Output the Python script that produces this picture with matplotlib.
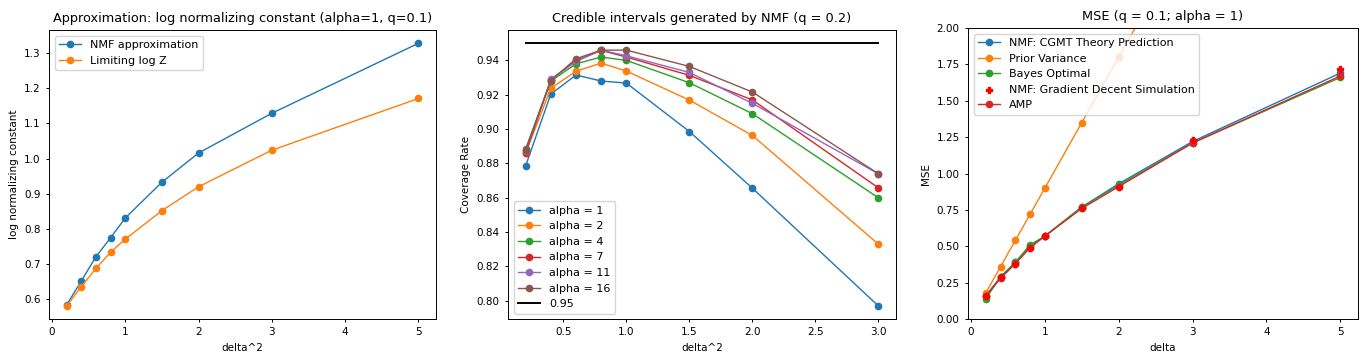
import matplotlib
matplotlib.use("Agg")
import matplotlib.pyplot as plt

# ---- panel 1: log normalizing constant ----
delta2 = [0.2, 0.4, 0.6, 0.8, 1.0, 1.5, 2.0, 3.0, 5.0]
nmf_logz = [0.584, 0.652, 0.721, 0.775, 0.831, 0.933, 1.016, 1.129, 1.328]
lim_logz = [0.581, 0.636, 0.688, 0.734, 0.771, 0.852, 0.920, 1.024, 1.171]

# ---- panel 2: coverage ----
delta2_cov = [0.2, 0.4, 0.6, 0.8, 1.0, 1.5, 2.0, 3.0]
alphas = [1, 2, 4, 7, 11, 16]
cov_a1 = [0.8786, 0.9204, 0.9315, 0.928, 0.9268, 0.8986, 0.8656, 0.797]
cov_a2 = [0.8860, 0.9237, 0.9338, 0.9384, 0.9338, 0.9169, 0.8963, 0.833]
cov_a4 = [0.8885, 0.9280, 0.9380, 0.9420, 0.9400, 0.9270, 0.9090, 0.860]
cov_a7 = [0.8858, 0.9287, 0.9400, 0.9458, 0.9420, 0.9313, 0.9170, 0.8658]
cov_a11 = [0.8870, 0.9290, 0.9394, 0.9460, 0.9427, 0.9330, 0.9150, 0.874]
cov_a16 = [0.8878, 0.9283, 0.9410, 0.9460, 0.9460, 0.9365, 0.9216, 0.874]
target = 0.95

# ---- panel 3: MSE ----
delta = [0.2, 0.4, 0.6, 0.8, 1.0, 1.5, 2.0, 3.0, 5.0]
mse_cgmt = [0.16, 0.29, 0.39, 0.50, 0.57, 0.77, 0.93, 1.22, 1.69]
mse_prior = [0.18, 0.36, 0.54, 0.72, 0.90, 1.35, 1.80, 2.70, 4.50]
mse_bayes = [0.14, 0.29, 0.39, 0.51, 0.57, 0.77, 0.92, 1.21, 1.66]
mse_sim = [0.16, 0.29, 0.38, 0.49, 0.57, 0.76, 0.91, 1.23, 1.72]
mse_amp = [0.16, 0.28, 0.38, 0.49, 0.57, 0.76, 0.91, 1.21, 1.67]

plt.rcParams["font.size"] = 7.5
plt.rcParams["legend.fontsize"] = 8
plt.rcParams["lines.linewidth"] = 1.0
plt.rcParams["lines.markersize"] = 4.5
plt.rcParams["axes.linewidth"] = 0.7
plt.rcParams["xtick.major.width"] = 0.7
plt.rcParams["ytick.major.width"] = 0.7
plt.rcParams["xtick.major.size"] = 2.5
plt.rcParams["ytick.major.size"] = 2.5

fig = plt.figure(figsize=(13.7, 3.63), dpi=100)
ax1 = fig.add_axes([0.0358, 0.121, 0.2825, 0.796])
ax2 = fig.add_axes([0.3708, 0.121, 0.2832, 0.796])
ax3 = fig.add_axes([0.7066, 0.121, 0.2847, 0.802])

ax1.plot(delta2, nmf_logz, marker="o", label="NMF approximation")
ax1.plot(delta2, lim_logz, marker="o", label="Limiting log Z")
ax1.set_title("Approximation: log normalizing constant (alpha=1, q=0.1)", fontsize=9.3)
ax1.set_xlabel("delta^2")
ax1.set_ylabel("log normalizing constant")
ax1.legend(loc="upper left")

cov = [cov_a1, cov_a2, cov_a4, cov_a7, cov_a11, cov_a16]
for a, c in zip(alphas, cov):
    ax2.plot(delta2_cov, c, marker="o", label=f"alpha = {a}")
ax2.plot([delta2_cov[0], delta2_cov[-1]], [target, target], color="black",
         linewidth=1.4, label=str(target))
ax2.set_title("Credible intervals generated by NMF (q = 0.2)", fontsize=9.3)
ax2.set_xlabel("delta^2")
ax2.set_ylabel("Coverage Rate")
ax2.legend(loc="lower left")

ax3.plot(delta, mse_cgmt, marker="o", label="NMF: CGMT Theory Prediction")
ax3.plot(delta, mse_prior, marker="o", label="Prior Variance")
ax3.plot(delta, mse_bayes, marker="o", label="Bayes Optimal")
ax3.scatter(delta, mse_sim, marker="P", color="red", s=25, zorder=5,
            label="NMF: Gradient Decent Simulation")
ax3.plot(delta, mse_amp, marker="o", color="tab:red", label="AMP")
ax3.set_ylim(0, 2)
ax3.set_title("MSE (q = 0.1; alpha = 1)", fontsize=9.3)
ax3.set_xlabel("delta")
ax3.set_ylabel("MSE")
ax3.legend(loc="upper left")

fig.savefig("out.png", dpi=100)
